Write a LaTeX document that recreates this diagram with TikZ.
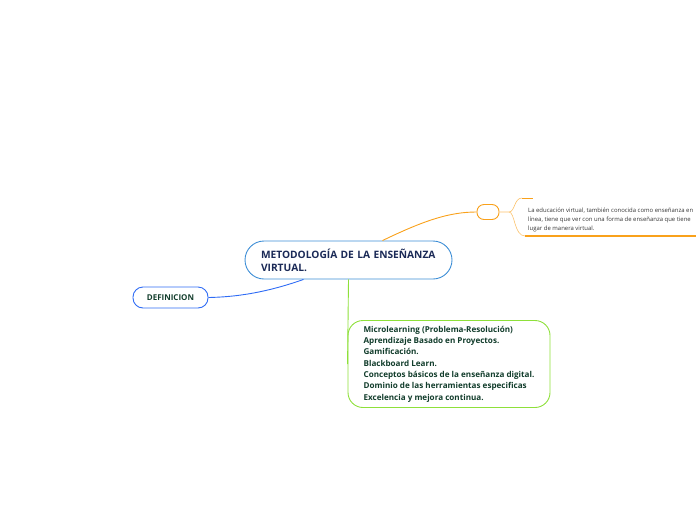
\documentclass[tikz,border=0pt]{standalone}
\usepackage{fontspec}
\setmainfont{Open Sans}
\definecolor{mainblue}{HTML}{3D8ED6}
\definecolor{navy}{HTML}{1B2A57}
\definecolor{defblue}{HTML}{2F6CF5}
\definecolor{dkgreen}{HTML}{123D2C}
\definecolor{lgreen}{HTML}{8EE03A}
\definecolor{orng}{HTML}{F9A11B}
\definecolor{porng}{HTML}{FBC26B}
\begin{document}
\begin{tikzpicture}[x=1pt,y=-1pt,
  mainbox/.style={draw=mainblue,line width=0.9pt,rounded corners=19pt,fill=white,minimum width=207pt,minimum height=38pt,text width=175pt,align=left,inner xsep=16pt,font=\fontsize{10.2}{13}\selectfont\bfseries,text=navy},
  defbox/.style={draw=defblue,line width=0.9pt,rounded corners=10pt,fill=white,minimum width=75pt,minimum height=21pt,inner xsep=2pt,font=\fontsize{8}{9}\selectfont\bfseries,text=dkgreen},
  listbox/.style={draw=lgreen,line width=0.9pt,rounded corners=15pt,fill=white,minimum width=202pt,minimum height=87pt,align=left,inner xsep=0pt,font=\fontsize{8.1}{11.3}\selectfont\bfseries,text=dkgreen},
  knotbox/.style={draw=orng,line width=0.9pt,rounded corners=7pt,fill=white,minimum width=22pt,minimum height=15pt},
  desc/.style={align=left,inner sep=0pt,font=\fontsize{5.95}{9}\selectfont,text=black!80}]
\useasboundingbox (0,0) rectangle (696,520);
\node[mainbox] (main) at (348.5,260) {METODOLOGÍA DE LA ENSEÑANZA\\VIRTUAL.};
\node[defbox] (def) at (170.5,297.5) {DEFINICION};
\node[listbox] (list) at (449,364) {Microlearning (Problema-Resolución)\\Aprendizaje Basado en Proyectos.\\Gamificación.\\Blackboard Learn.\\Conceptos básicos de la enseñanza digital.\\Dominio de las herramientas especificas\\Excelencia y mejora continua.};
\node[knotbox] (knot) at (488,212) {};
\node[desc,anchor=north west] (txt) at (528,208) {La educación virtual, también conocida como enseñanza en\\línea, tiene que ver con una forma de enseñanza que tiene\\lugar de manera virtual.};
\coordinate (br) at (509,212);
\coordinate (topend) at (533,198);
\coordinate (botend) at (696,236);
% connectors
\draw[defblue,line width=0.9pt] ([xshift=-45pt]main.south) .. controls (265,293) and (235,297) .. (def.east);
\draw[lgreen,line width=0.9pt] (main.south) -- (list.west);
\draw[orng,line width=0.9pt] ([xshift=34pt]main.north) .. controls (425,220) and (450,212) .. (knot.west);
\draw[porng,line width=0.6pt] (knot.east) -- (br) .. controls (515,212) and (514,198) .. (522,198);
\draw[porng,line width=0.6pt] (br) .. controls (515,212) and (514,236) .. (525,236);
\draw[orng,line width=1pt] (522,198) -- (topend);
\draw[orng,line width=1.2pt] (525,236) -- (botend);
\end{tikzpicture}
\end{document}
